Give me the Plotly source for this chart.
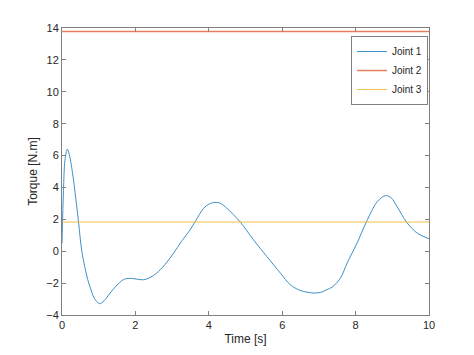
import plotly.graph_objects as go

# Joint 1 torque samples
t1 = [0.0, 0.04, 0.08, 0.145, 0.20, 0.30, 0.45, 0.54, 0.70, 0.76, 0.88, 1.02, 1.15, 1.31,
      1.50, 1.65, 1.77, 1.95, 2.10, 2.22, 2.40, 2.58, 2.80, 3.04, 3.25, 3.49, 3.63, 3.86,
      4.00, 4.17, 4.32, 4.49, 4.86, 5.22, 5.58, 5.95, 6.22, 6.49, 6.86, 7.05, 7.22, 7.36,
      7.50, 7.62, 7.77, 8.04, 8.29, 8.59, 8.81, 8.97, 9.13, 9.39, 9.68, 10.0]
tau1 = [0.5, 3.8, 5.7, 6.4, 6.05, 4.7, 1.83, 0.0, -1.77, -2.21, -2.95, -3.29, -3.1, -2.62,
        -2.12, -1.82, -1.71, -1.72, -1.77, -1.79, -1.65, -1.37, -0.85, -0.12, 0.6, 1.34, 1.86, 2.70,
        2.95, 3.07, 3.0, 2.70, 1.82, 0.71, -0.33, -1.37, -2.10, -2.46, -2.62, -2.58, -2.41, -2.25,
        -1.95, -1.55, -0.74, 0.51, 1.82, 3.11, 3.49, 3.35, 2.80, 1.82, 1.13, 0.78]

t_const = [0.0, 10.0]
tau2 = [13.78, 13.78]
tau3 = [1.83, 1.83]

series_names = ["Joint 1", "Joint 2", "Joint 3"]
x_ticks = [0, 2, 4, 6, 8, 10]
y_ticks = [-4, -2, 0, 2, 4, 6, 8, 10, 12, 14]

colors = ["#3f8fc6", "#e5805f", "#efbf4a"]

fig = go.Figure()
fig.add_trace(go.Scatter(x=t1, y=tau1, mode="lines", name=series_names[0],
                         line=dict(color=colors[0], width=1, shape="spline", smoothing=0.9)))
fig.add_trace(go.Scatter(x=t_const, y=tau2, mode="lines", name=series_names[1],
                         line=dict(color=colors[1], width=1.5)))
fig.add_trace(go.Scatter(x=t_const, y=tau3, mode="lines", name=series_names[2],
                         line=dict(color=colors[2], width=1)))

axis_common = dict(showline=True, linecolor="#808080", linewidth=1, mirror="ticks",
                   ticks="inside", ticklen=4, tickcolor="#808080", showgrid=False,
                   zeroline=False, automargin=False,
                   tickfont=dict(family="Liberation Sans, Arial", size=11, color="#262626"))

fig.update_layout(
    width=466, height=347,
    paper_bgcolor="white", plot_bgcolor="white",
    margin=dict(l=54, r=45, t=20, b=40),
    font=dict(family="Liberation Sans, Arial", size=11, color="#262626"),
    xaxis=dict(range=[0, 10], tickvals=x_ticks, title=dict(text="Time [s]", standoff=4,
               font=dict(size=12)), **axis_common),
    yaxis=dict(range=[-4, 14], tickvals=y_ticks, title=dict(text="Torque [N.m]", standoff=6,
               font=dict(size=12)), **axis_common),
    legend=dict(x=0.997, xanchor="right", y=0.972, yanchor="top",
                bgcolor="white", bordercolor="#808080", borderwidth=1,
                font=dict(size=10, color="#262626"), tracegroupgap=0, itemwidth=30),
    showlegend=True,
)

fig.write_html("out.html")
